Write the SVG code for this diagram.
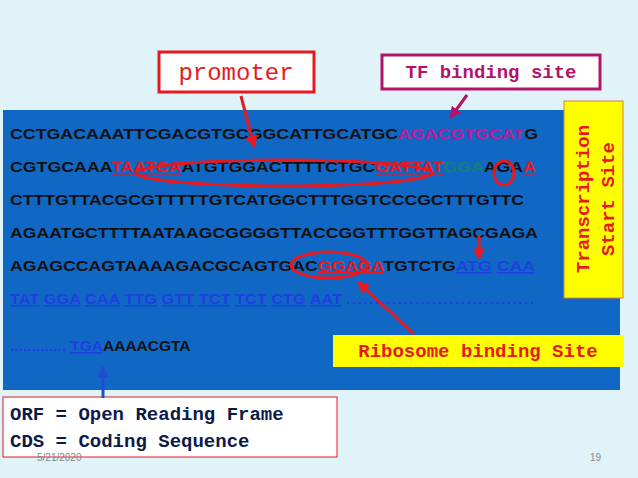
<svg xmlns="http://www.w3.org/2000/svg" width="638" height="478" viewBox="0 0 638 478">
<style>
.seq{font-family:"Liberation Sans",Arial,sans-serif;font-weight:bold;font-size:15.5px;fill:#111}
.mono{font-family:"Liberation Mono","Courier New",monospace;font-weight:bold}
.r{fill:#e8191e;text-decoration:underline}
.b{fill:#1f3fe0;text-decoration:underline}
.m{fill:#c1189a}
.t{fill:#1a7a7a}
</style>
<defs>
<marker id="ar" viewBox="0 0 10 10" refX="8" refY="5" markerWidth="4" markerHeight="4" orient="auto"><path d="M0,0L10,5L0,10z" fill="#e8191e"/></marker>
<marker id="am" viewBox="0 0 10 10" refX="8" refY="5" markerWidth="4" markerHeight="4" orient="auto"><path d="M0,0L10,5L0,10z" fill="#b5126a"/></marker>
<marker id="ab" viewBox="0 0 10 10" refX="8" refY="5" markerWidth="4" markerHeight="4" orient="auto"><path d="M0,0L10,5L0,10z" fill="#1f4fd0"/></marker>
</defs>
<rect width="638" height="478" fill="#dff3f8"/>
<g id="sequence">
<rect x="3" y="110" width="617" height="280" fill="#1167c4"/>
<text class="seq" x="10" y="139" textLength="528" lengthAdjust="spacingAndGlyphs">CCTGACAAATTCGACGTGCGGCATTGCATGC<tspan class="m">AGACGTGCAT</tspan>G</text>
<text class="seq" x="10" y="172" textLength="526" lengthAdjust="spacingAndGlyphs">CGTGCAAA<tspan class="r">TAATCA</tspan>ATGTGGACTTTTCTGC<tspan class="r">GATTAT</tspan><tspan class="t">GGA</tspan>AGA<tspan class="r">A</tspan></text>
<text class="seq" x="10" y="205" textLength="514" lengthAdjust="spacingAndGlyphs">CTTTGTTACGCGTTTTTGTCATGGCTTTGGTCCCGCTTTGTTC</text>
<text class="seq" x="10" y="238" textLength="528" lengthAdjust="spacingAndGlyphs">AGAATGCTTTTAATAAGCGGGGTTACCGGTTTGGTTAGCGAGA</text>
<text class="seq" x="10" y="271" textLength="525" lengthAdjust="spacingAndGlyphs">AGAGCCAGTAAAAGACGCAGTGAC<tspan class="r">GGAGA</tspan>TGTCTG<tspan class="b">ATG</tspan> <tspan class="b">CAA</tspan></text>
<text class="seq" x="10" y="304" textLength="332" lengthAdjust="spacingAndGlyphs"><tspan class="b">TAT</tspan> <tspan class="b">GGA</tspan> <tspan class="b">CAA</tspan> <tspan class="b">TTG</tspan> <tspan class="b">GTT</tspan> <tspan class="b">TCT</tspan> <tspan class="b">TCT</tspan> <tspan class="b">CTG</tspan> <tspan class="b">AAT</tspan></text>
<text class="seq" x="346" y="304" fill="#1f3fe0" style="fill:#1f3fe0" textLength="188" lengthAdjust="spacing">.................................</text>
<text class="seq" x="10" y="351"><tspan style="fill:#1f3fe0">.............</tspan> <tspan class="b">TGA</tspan>AAAACGTA</text>
</g>
<g id="promoter">
<rect x="159" y="52" width="155" height="40" fill="#fff" stroke="#e8191e" stroke-width="3"/>
<text class="mono" x="236" y="80" text-anchor="middle" font-size="24" font-weight="normal" style="font-weight:normal" fill="#e8191e">promoter</text>
</g>
<g id="tf">
<rect x="382" y="55" width="218" height="34" fill="#fff" stroke="#b5126a" stroke-width="3"/>
<text class="mono" x="491" y="78" text-anchor="middle" font-size="19" fill="#b5126a">TF binding site</text>
</g>
<g id="tss">
<rect x="564" y="101" width="59" height="197" fill="#ffff00" stroke="#e08040" stroke-width="1"/>
<text class="mono" transform="translate(589,199) rotate(-90)" text-anchor="middle" font-size="19" fill="#e8191e">Transcription</text>
<text class="mono" transform="translate(614,199) rotate(-90)" text-anchor="middle" font-size="19" fill="#e8191e">Start Site</text>
</g>
<g id="rbs">
<rect x="333" y="335" width="291" height="32" fill="#ffff00"/>
<text class="mono" x="478" y="357" text-anchor="middle" font-size="19" fill="#e8191e">Ribosome binding Site</text>
</g>
<g id="orf">
<rect x="3" y="397" width="334" height="60" fill="#fff" stroke="#e8191e" stroke-width="1"/>
<text class="mono" x="10" y="420" font-size="19" fill="#0c1a4a">ORF = Open Reading Frame</text>
<text class="mono" x="10" y="447" font-size="19" fill="#0c1a4a">CDS = Coding Sequence</text>
</g>
<g id="connectors" fill="none">
<ellipse cx="284" cy="173" rx="148" ry="13" stroke="#e8191e" stroke-width="3"/>
<ellipse cx="504" cy="173" rx="10" ry="12" stroke="#e8191e" stroke-width="3"/>
<ellipse cx="329" cy="265" rx="38" ry="13" stroke="#e8191e" stroke-width="3"/>
<line x1="241" y1="96" x2="254" y2="146" stroke="#e8191e" stroke-width="3" marker-end="url(#ar)"/>
<line x1="467" y1="95" x2="451" y2="117" stroke="#b5126a" stroke-width="3" marker-end="url(#am)"/>
<line x1="479" y1="235" x2="479" y2="258" stroke="#e8191e" stroke-width="3" marker-end="url(#ar)"/>
<line x1="414" y1="334" x2="359" y2="283" stroke="#e8191e" stroke-width="3" marker-end="url(#ar)"/>
<line x1="103" y1="398" x2="103" y2="368" stroke="#1f4fd0" stroke-width="3" marker-end="url(#ab)"/>
</g>
<text x="37" y="461" font-family="Liberation Sans,sans-serif" font-size="10" fill="#888">5/21/2020</text>
<text x="590" y="461" font-family="Liberation Sans,sans-serif" font-size="10" fill="#888">19</text>
</svg>
